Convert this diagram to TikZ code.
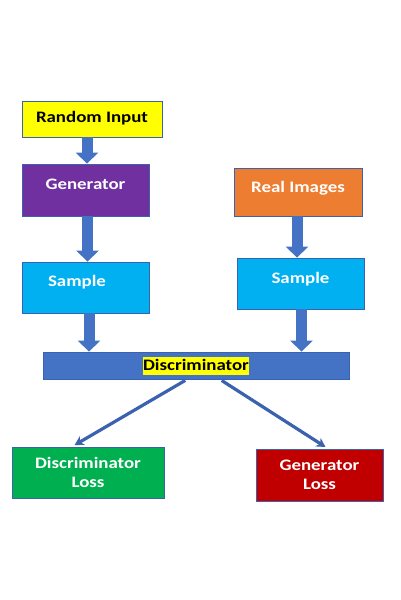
\documentclass[tikz,border=0pt]{standalone}
\usepackage{fontspec}
\setmainfont{Carlito}[FakeStretch=1.18]
\usetikzlibrary{arrows.meta}
\definecolor{cyel}{HTML}{FFFF00}
\definecolor{cpurple}{HTML}{7030A0}
\definecolor{corange}{HTML}{ED7D31}
\definecolor{ccyan}{HTML}{00B0F0}
\definecolor{cblue}{HTML}{4472C4}
\definecolor{cborder}{HTML}{3A62AE}
\definecolor{cgreen}{HTML}{00B050}
\definecolor{cred}{HTML}{C00000}
\begin{document}
\begin{tikzpicture}[x=1pt,y=-1pt,
  box/.style={draw=cborder, line width=0.8pt, font=\bfseries\fontsize{16}{19}\selectfont,
    text=white, inner sep=0pt, align=center},
  one/.style={text height=11pt, text depth=#1},
  blockarrow/.style={draw=cblue, line width=11pt, -{Triangle[width=22pt,length=11pt]}},
  thinarrow/.style={draw=cborder, line width=3.2pt, -{Stealth[length=9pt,width=10pt]}}]
\fill[white, use as bounding box] (0,0) rectangle (400,600);

\node[box, one=3.5pt, fill=cyel, text=black, minimum width=140pt, minimum height=36pt] (ri) at (92,119) {Random Input};
\node[box, one=12.5pt, fill=cpurple, minimum width=127pt, minimum height=52pt] (gen) at (85.5,190) {Generator};
\node[box, one=12.5pt, fill=ccyan, minimum width=127pt, minimum height=51pt] (sl) at (85.5,287.5) {Sample\kern17pt};
\node[box, one=10.5pt, fill=corange, minimum width=128pt, minimum height=48pt] (real) at (298,192) {Real Images};
\node[box, one=11.5pt, fill=ccyan, minimum width=127pt, minimum height=51pt] (sr) at (300.5,283.5) {Sample};
\node[box, fill=cblue, text=black, minimum width=306pt, minimum height=27pt] (disc) at (196,365.5)
  {{\setlength{\fboxsep}{0pt}\colorbox{cyel}{\rule[-4.5pt]{0pt}{18pt}Discriminator}}};
\node[box, fill=cgreen, minimum width=152pt, minimum height=51pt] (dl) at (88,472.5) {Discriminator\\Loss};
\node[box, fill=cred, minimum width=127pt, minimum height=52pt] (gl) at (319.5,475) {Generator\\Loss};

\draw[blockarrow] ([xshift=-5pt]ri.south) -- ([xshift=1.5pt]gen.north);
\draw[blockarrow] ([xshift=2pt]gen.south) -- ([xshift=2pt]sl.north);
\draw[blockarrow] ([xshift=3.5pt]sl.south) -- ([xshift=3.5pt]sl.south |- disc.north);
\draw[blockarrow] ([xshift=-1pt]real.south) -- ([xshift=-3.5pt]sr.north);
\draw[blockarrow] ([xshift=1pt]sr.south) -- ([xshift=1pt]sr.south |- disc.north);

\draw[thinarrow, shorten <=2pt, shorten >=3pt] ([xshift=-9pt]disc.south) -- ([xshift=-16pt]dl.north);
\draw[thinarrow, shorten <=2pt, shorten >=3pt] ([xshift=24pt]disc.south) -- ([xshift=8.5pt]gl.north);
\end{tikzpicture}
\end{document}
